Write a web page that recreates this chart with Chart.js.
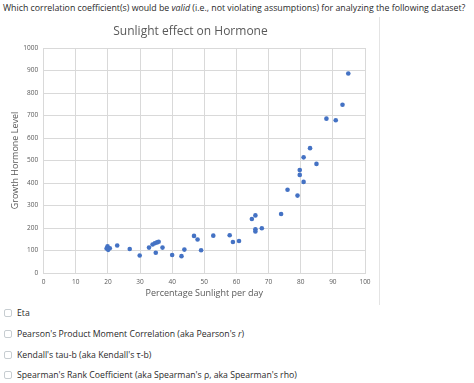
<!DOCTYPE html>
<html>
<head>
<meta charset="utf-8">
<script src="https://cdn.jsdelivr.net/npm/chart.js@4/dist/chart.umd.min.js"></script>
<style>
  html, body { margin: 0; padding: 0; background: #fff; width: 474px; height: 383px; overflow: hidden; }
  body { position: relative; font-family: "Open Sans", sans-serif; color: #2d3b45; }
  #q { position: absolute; left: 3px; top: 1px; font-size: 9px; line-height: 14px; white-space: nowrap; color: #2a2a2a; }
  #wrap { position: absolute; left: 0; top: 17px; width: 380px; height: 288px; border-right: 1px solid #e4e4e4; box-sizing: border-box; }
  #wrap canvas { display: block; }
  #title { position: absolute; left: 90px; width: 201px; top: 22px; text-align: center; font-size: 12px; line-height: 18px; color: #595959; white-space: nowrap; }
  .opt { position: absolute; left: 4px; font-size: 9px; line-height: 12px; white-space: nowrap; color: #2a2a2a; }
  .opt .box { display: inline-block; width: 8px; height: 8px; border: 1px solid #c7cdd1; border-radius: 2px; box-sizing: border-box; vertical-align: -1px; margin-right: 5px; background: #fff; }
  .txt { display: inline-block; }
</style>
</head>
<body>
<div id="q"><span id="qt" class="txt">Which correlation coefficient(s) would be <i>valid</i> (i.e., not violating assumptions) for analyzing the following dataset?</span></div>
<div id="wrap"><canvas id="c" width="380" height="288"></canvas></div>
<div id="title"></div>
<div class="opt" style="top:307px"><span class="box"></span><span class="txt">Eta</span></div>
<div class="opt" style="top:328px"><span class="box"></span><span class="txt">Pearson's Product Moment Correlation (aka Pearson's <i>r</i>)</span></div>
<div class="opt" style="top:349px"><span class="box"></span><span class="txt">Kendall's tau-b (aka Kendall's τ-b)</span></div>
<div class="opt" style="top:369px"><span class="box"></span><span id="sp" class="txt">Spearman's Rank Coefficient (aka Spearman's ρ, aka Spearman's rho)</span></div>
<script>
const chartTitle = "Sunlight effect on Hormone";
const xAxisTitle = "Percentage Sunlight per day";
const yAxisTitle = "Growth Hormone Level";
const sunlight = [19.9, 19.6, 20.6, 20.1, 22.9, 26.8, 29.9, 32.8, 33.9, 34.6, 35.3, 35.8, 34.9, 37.0, 40.0, 42.9, 43.8, 46.8, 47.9, 49.0, 52.8, 57.9, 58.9, 60.8, 64.8, 65.9, 65.9, 65.9, 67.9, 73.9, 75.9, 79.0, 79.7, 79.7, 80.9, 80.9, 82.9, 84.9, 88.0, 90.9, 93.0, 94.8];
const hormone  = [119, 109, 110, 103, 122, 107, 78, 113, 127, 132, 136, 139, 90, 113, 80, 75, 104, 165, 149, 101, 166, 168, 138, 142, 240, 256, 194, 185, 199, 262, 370, 344, 436, 458, 405, 514, 555, 485, 686, 679, 748, 887];
const xTicks = [0, 10, 20, 30, 40, 50, 60, 70, 80, 90, 100];
const yTicks = [0, 100, 200, 300, 400, 500, 600, 700, 800, 900, 1000];

document.getElementById('title').textContent = chartTitle;

// fit text widths to the reference
(function fit() {
  const q = document.getElementById('q'), qt = document.getElementById('qt');
  const w1 = qt.getBoundingClientRect().width;
  q.style.fontSize = (9 * 463 / w1).toFixed(2) + 'px';
  const sp = document.getElementById('sp');
  const w2 = sp.getBoundingClientRect().width;
  const fs = (9 * 280 / w2).toFixed(2) + 'px';
  document.querySelectorAll('.opt').forEach(o => { o.style.fontSize = fs; });
})();

const points = sunlight.map((x, i) => ({ x: x, y: hormone[i] }));
const grey = '#595959';
const gridCol = '#d9d9d9';

new Chart(document.getElementById('c'), {
  type: 'scatter',
  data: { datasets: [{ data: points, backgroundColor: '#4472C4', borderColor: '#4472C4', pointRadius: 2.3, pointHoverRadius: 2.3, borderWidth: 0 }] },
  options: {
    responsive: false, animation: false, events: [],
    layout: { padding: { left: 0, right: 15, top: 31, bottom: 0 }, autoPadding: false },
    plugins: { legend: { display: false }, tooltip: { enabled: false }, title: { display: false } },
    scales: {
      x: {
        type: 'linear', min: 0, max: 100,
        afterBuildTicks: s => { s.ticks = xTicks.map(v => ({ value: v })); },
        afterFit: s => { s.height = 32; },
        grid: { color: gridCol, lineWidth: 1, drawTicks: false },
        border: { display: true, color: gridCol },
        ticks: { color: grey, font: { family: 'Open Sans', size: 6.5 }, padding: 5, maxRotation: 0, callback: v => String(v) },
        title: { display: true, text: xAxisTitle, color: grey, font: { family: 'Open Sans', size: 9 }, padding: { top: 0, bottom: 6.6 } }
      },
      y: {
        type: 'linear', min: 0, max: 1000,
        afterBuildTicks: s => { s.ticks = yTicks.map(v => ({ value: v })); },
        afterFit: s => { s.width = 43.6; },
        grid: { color: gridCol, lineWidth: 1, drawTicks: false },
        border: { display: true, color: gridCol },
        ticks: { color: grey, font: { family: 'Open Sans', size: 6.5 }, padding: 5.5, callback: v => String(v) },
        title: { display: true, text: yAxisTitle, color: grey, font: { family: 'Open Sans', size: 9 }, padding: { top: 9.6, bottom: 0 } }
      }
    }
  }
});
</script>
</body>
</html>
